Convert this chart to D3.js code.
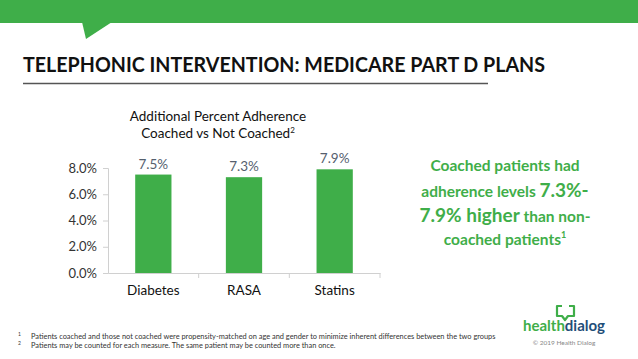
<!DOCTYPE html>
<html><head><meta charset="utf-8">
<script src="https://cdn.jsdelivr.net/npm/d3@7"></script>
<style>body{margin:0;background:#fff}svg{display:block}</style>
</head><body>
<script>
const categories = ["Diabetes", "RASA", "Statins"];
const values = [7.5, 7.3, 7.9];
const valueLabels = ["7.5%", "7.3%", "7.9%"];
const yTicks = [0, 2, 4, 6, 8];
const yTickLabels = ["0.0%", "2.0%", "4.0%", "6.0%", "8.0%"];
const chartTitle = ["Additional Percent Adherence", "Coached vs Not Coached"];
const pageTitle = "TELEPHONIC INTERVENTION: MEDICARE PART D PLANS";
const footnotes = [
  "Patients coached and those not coached were propensity-matched on age and gender to minimize inherent differences between the two groups",
  "Patients may be counted for each measure. The same patient may be counted more than once."
];

const W = 638, H = 359;
const green = "#3fae49";
const font = "Lato, 'Open Sans', sans-serif";
const svg = d3.select("body").append("svg").attr("width", W).attr("height", H)
  .style("font-family", font);

// top band + triangle
svg.append("rect").attr("x", 0).attr("y", 0).attr("width", W).attr("height", 23).attr("fill", green);
svg.append("path").attr("d", "M82,22 L112,22 L86,39 Z").attr("fill", green);

// page title
svg.append("text").attr("x", 23).attr("y", 72).attr("font-size", 21).attr("font-weight", 700)
  .attr("fill", "#111").attr("textLength", 522).attr("lengthAdjust", "spacingAndGlyphs").text(pageTitle);
svg.append("line").attr("x1", 23).attr("x2", 488).attr("y1", 83.5).attr("y2", 83.5)
  .attr("stroke", "#555").attr("stroke-width", 1.5);

// chart
const x = d3.scaleBand().domain(categories).range([108, 380]).paddingInner(0.6).paddingOuter(0.3);
const xb = d3.scaleBand().domain(categories).range([108, 380]);
const y = d3.scaleLinear().domain([0, 8]).range([273, 168]);

const yAxis = svg.append("g").attr("transform", "translate(108,0)")
  .call(d3.axisLeft(y).tickValues(yTicks).tickFormat((d, i) => yTickLabels[i]).tickSize(5).tickPadding(6));
yAxis.select(".domain").attr("stroke", "#d0d0d0");
yAxis.selectAll(".tick line").attr("stroke", "#d0d0d0");
yAxis.selectAll("text").attr("font-size", 13).attr("fill", "#333").style("font-family", font);

const xAxis = svg.append("g").attr("transform", "translate(0,273)")
  .call(d3.axisBottom(xb).tickSize(0).tickPadding(12));
xAxis.select(".domain").attr("stroke", "#d0d0d0");
xAxis.selectAll("text").attr("font-size", 13.5).attr("fill", "#111").style("font-family", font);
// category separators
svg.append("g").selectAll("line").data(categories).join("line")
  .attr("x1", d => xb(d) + xb.bandwidth()).attr("x2", d => xb(d) + xb.bandwidth())
  .attr("y1", 273).attr("y2", 278).attr("stroke", "#d0d0d0");

svg.append("g").selectAll("rect").data(values).join("rect")
  .attr("x", (d, i) => x(categories[i])).attr("width", x.bandwidth())
  .attr("y", d => y(d)).attr("height", d => y(0) - y(d)).attr("fill", green);

svg.append("g").selectAll("text").data(values).join("text")
  .attr("x", (d, i) => x(categories[i]) + x.bandwidth() / 2).attr("y", d => y(d) - 6)
  .attr("text-anchor", "middle").attr("font-size", 13.5).attr("fill", "#55606e")
  .text((d, i) => valueLabels[i]);

const ct = svg.append("text").attr("text-anchor", "middle").attr("font-size", 13.5).attr("fill", "#111");
ct.append("tspan").attr("x", 218).attr("y", 121).text(chartTitle[0]);
ct.append("tspan").attr("x", 218).attr("y", 138).text(chartTitle[1]);
ct.append("tspan").attr("font-size", 8).attr("dy", -5).text("2");

// right callout
const cg = svg.append("text").attr("text-anchor", "middle").attr("fill", green).attr("font-weight", 700)
  .attr("font-size", 15.5);
cg.append("tspan").attr("x", 505).attr("y", 171).text("Coached patients had");
const l2 = cg.append("tspan").attr("x", 505).attr("y", 197);
l2.append("tspan").text("adherence levels ");
l2.append("tspan").attr("font-size", 19).text("7.3%-");
const l3 = cg.append("tspan").attr("x", 505).attr("y", 222);
l3.append("tspan").attr("font-size", 19).text("7.9% higher");
l3.append("tspan").text(" than non-");
const l4 = cg.append("tspan").attr("x", 505).attr("y", 245);
l4.append("tspan").text("coached patients");
l4.append("tspan").attr("font-size", 9).attr("dy", -7).text("1");

// footnotes
footnotes.forEach((f, i) => {
  svg.append("text").attr("x", 18).attr("y", 336 + i * 9).attr("font-size", 5).attr("fill", "#333").text(String(i + 1));
  svg.append("text").attr("x", 31).attr("y", 339 + i * 9).attr("font-size", 7.4).attr("fill", "#333").text(f);
});

// logo
const lg = svg.append("g");
lg.append("path").attr("d", "M562,306 L557,306 L557,316 L562,316 L565,320 L568,316 L574,316 L574,306 L569,306")
  .attr("fill", "none").attr("stroke", green).attr("stroke-width", 2.2).attr("stroke-linejoin", "round");
const lt = lg.append("text").attr("x", 564).attr("y", 331).attr("text-anchor", "middle")
  .attr("font-size", 15).attr("font-weight", 700);
lt.append("tspan").attr("fill", green).text("health");
lt.append("tspan").attr("fill", "#1f4e79").text("dialog");
lg.append("text").attr("x", 564).attr("y", 345).attr("text-anchor", "middle").attr("font-size", 6.5)
  .attr("fill", "#888").text("© 2019 Health Dialog");
</script>
</body></html>
